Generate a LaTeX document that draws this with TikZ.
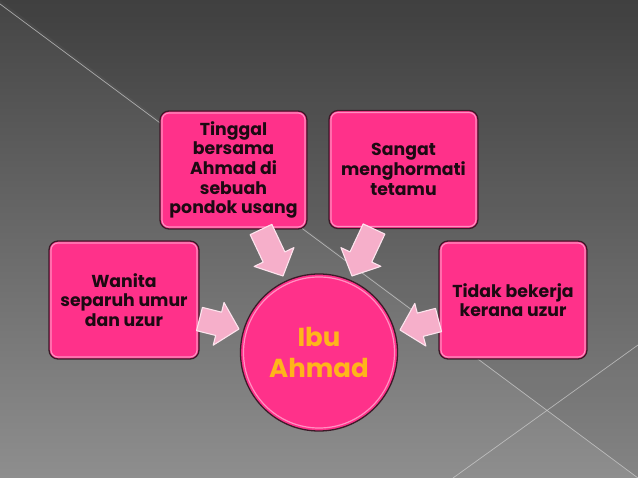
\documentclass[tikz,border=0pt]{standalone}
\usepackage{fontspec}
\setmainfont{Poppins}
\usetikzlibrary{calc}
\definecolor{boxpink}{HTML}{FF318A}
\definecolor{boxedge}{HTML}{3C1A28}
\definecolor{hilite}{HTML}{FFA8CF}
\definecolor{arrowpink}{HTML}{F6AFCA}
\definecolor{arrowedge}{HTML}{FDE4EE}
\definecolor{ibucol}{HTML}{FFB51A}
\definecolor{txtcol}{HTML}{1C0A12}
\definecolor{bgtop}{HTML}{454545}
\definecolor{bgbot}{HTML}{8E8E8E}
\tikzset{
  infobox/.style={draw=boxedge, line width=1.3pt, fill=boxpink, rounded corners=9pt,
    minimum width=#1, minimum height=118pt, inner sep=0pt, align=center,
    font=\fontsize{17.3}{19.7}\selectfont\bfseries, text=txtcol},
  blockarrow/.style={fill=arrowpink, draw=arrowedge, line width=1.1pt, line join=round},
  bgline/.style={draw=white!65!gray, line width=0.7pt, opacity=0.7}
}
\newcommand\blockarr[2]{%
  \coordinate (#1h) at ($(#2)!21pt!(#1)$);
  \draw[blockarrow] ($(#1)!12pt!90:(#2)$)
    -- ($(#1h)!12pt!90:(#2)$)
    -- ($(#1h)!22pt!90:(#2)$)
    -- (#2)
    -- ($(#1h)!22pt!-90:(#2)$)
    -- ($(#1h)!12pt!-90:(#2)$)
    -- ($(#1)!12pt!-90:(#2)$) -- cycle;}
\begin{document}
\begin{tikzpicture}[x=1pt,y=-1pt]
\useasboundingbox (0,0) rectangle (638,478);
% background
\shade[top color=bgtop, bottom color=bgbot] (0,0) rectangle (638,478);
\fill[black, opacity=0.07] (0,0) -- (638,0) -- (638,478) -- cycle;
\draw[bgline] (0,4) -- (638,478);
\draw[bgline] (453,478) -- (638,345);
% boxes
\node[infobox=147pt] (tinggal) at (233.5,170) {Tinggal\\bersama\\Ahmad di\\sebuah\\pondok usang};
\node[infobox=149pt] (sangat) at (403.5,169.5) {Sangat\\menghormati\\tetamu};
\node[infobox=150pt] (wanita) at (124,300) {Wanita\\separuh umur\\dan uzur};
\node[infobox=148pt] (tidak) at (513,300) {Tidak bekerja\\kerana uzur};
\foreach \n in {tinggal,sangat,wanita,tidak}{
  \draw[hilite, line width=1.2pt, rounded corners=7pt, opacity=0.8]
    ($(\n.north west)+(2.6,2.6)$) rectangle ($(\n.south east)+(-2.6,-2.6)$);
}
% centre circle
\node[circle, draw=boxedge, line width=1.3pt, fill=boxpink, minimum size=157pt, inner sep=0pt,
  align=center, text=ibucol, font=\fontsize{26}{31}\selectfont\bfseries] (ibu) at (319,352.5) {Ibu\\Ahmad};
\draw[hilite, line width=1.2pt, opacity=0.8] (ibu.center) circle (75.5pt);
% connectors
\coordinate (t1) at (261,229.5);  \coordinate (p1) at (283,276);
\coordinate (t2) at (374,229);    \coordinate (p2) at (352,276);
\coordinate (t3) at (199.5,319);  \coordinate (p3) at (239,329);
\coordinate (t4) at (438.5,320);  \coordinate (p4) at (400,330);
\blockarr{t1}{p1}
\blockarr{t2}{p2}
\blockarr{t3}{p3}
\blockarr{t4}{p4}
\end{tikzpicture}
\end{document}
